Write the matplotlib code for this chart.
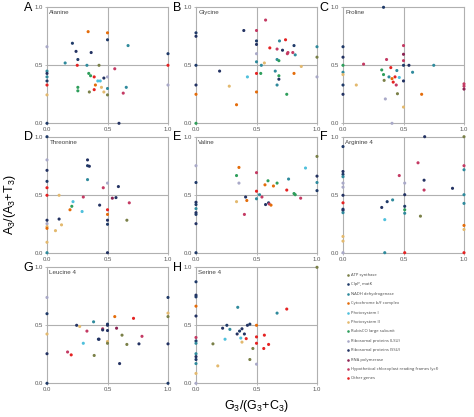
import numpy as np
import matplotlib
matplotlib.use("Agg")
import matplotlib.pyplot as plt

plt.rcParams['font.family'] = ['Liberation Sans', 'DejaVu Sans']
plt.rcParams['mathtext.fontset'] = 'custom'
plt.rcParams['mathtext.rm'] = 'Liberation Sans'
plt.rcParams['mathtext.it'] = 'Liberation Sans'

# gene groups (legend order) and their colours
groups = ['ATP synthase', 'ClpP, matK', 'NADH dehydrogenase', 'Cytochrome b/f complex',
          'Photosystem I', 'Photosystem II', 'RubisCO large subunit',
          'Ribosomal proteins (LSU)', 'Ribosomal proteins (SSU)', 'RNA polymerase',
          'Hypothetical chloroplast reading frames (ycf)', 'Other genes']
group_colors = ['#7a8048', '#1f3a68', '#2f8a9c', '#e46c0a', '#4fc0dc', '#e3b96e',
                '#2e9e5b', '#a9a9c8', '#233262', '#8b2252', '#c43a63', '#e52222']

# A - Alanine
ala_x = [0, .21, .24, .34, .5, .5, .67, .365, .255, .15, 1, .25, .33, .43, 1, .56, 0, 0, 0, 0, 0, 0,
         .345, .36, .39, .47, .5, .42, .44, .40, .45, .39, .5, .655, .255, .255, .35, .47, .5, .63, 1, 0, .595]
ala_y = [.66, .69, .62, .79, .78, .72, .67, .61, .55, .52, .60, .50, .50, .50, .50, .47, .45, .43, .40, .365, .33, .245,
         .43, .41, .40, .39, .40, .365, .365, .33, .31, .29, .30, .31, .31, .28, .27, .27, .245, .26, .33, 0, 0]
ala_g = [7, 1, 8, 3, 3, 1, 2, 8, 1, 2, 1, 11, 2, 0, 11, 10, 2, 8, 2, 1, 11, 5,
         6, 6, 11, 8, 7, 4, 4, 3, 5, 11, 2, 2, 6, 6, 0, 5, 0, 10, 7, 1, 8]

# B - Glycine
gly_x = [0, 0, 0, 0, 0, 0, .195, .275, .335, .395, .425, .5, .5, .5, .5, .5, .5, .5, .575, .565, .54, .535,
         .61, .67, .69, .715, .74, .755, .76, .80, .81, .82, .67, .685, .655, .685, .685, .67, .75, .81, .87, 1, 1, 1]
gly_y = [.78, .75, .50, .33, .25, 0, .45, .32, .16, .80, .40, .80, .71, .68, .60, .53, .43, .27, .89, .52, .50, .43,
         .65, .64, .71, .63, .72, .60, .61, .61, .67, .59, .55, .54, .45, .41, .38, .33, .25, .43, .49, .66, .57, .40]
gly_g = [1, 8, 1, 8, 3, 6, 8, 5, 3, 8, 4, 10, 1, 8, 7, 2, 11, 3, 10, 5, 2, 6,
         11, 10, 2, 8, 11, 10, 10, 10, 1, 2, 2, 6, 2, 6, 8, 2, 6, 3, 5, 2, 0, 7]

# C - Proline
pro_x = [.335, 0, 0, 0, 0, 0, 0, 0, .11, .17, .36, .395, .32, .335, .34, .38, .405, .43, .415, .44, .445, .465,
         .35, .45, .5, .5, .5, .5, .5, .5, .545, .575, .75, .65, .405, 1, 1, 1]
pro_y = [1, .66, .57, .50, .44, .42, .33, .25, .33, .51, .55, .48, .46, .42, .37, .40, .385, .40, .355, .33, .455, .395,
         .21, .255, .67, .595, .54, .50, .365, .14, .50, .44, .50, .25, 0, .34, .32, .295]
pro_g = [1, 1, 8, 6, 2, 5, 1, 8, 5, 10, 10, 11, 6, 6, 0, 2, 3, 11, 11, 10, 2, 4,
         7, 0, 10, 9, 10, 1, 8, 5, 8, 2, 2, 3, 7, 10, 10, 9]

# D - Threonine
thr_x = [0, 0, 0, 0, 0, 0, 0, 0, 0, 0, 0, 0, .10, .10, .12, .07, .19, .205, .215, .29, .30, .335, .335, .35, .335,
         .435, .465, .5, .5, .5, .5, .5, .5, .59, .54, .57, .68, .66]
thr_y = [1, .80, .71, .615, .56, .495, .28, .25, .225, .21, .09, 0, .495, .29, .24, .19, .37, .40, .44, .355, .48, .80, .75, .745, .63,
         .41, .56, .60, .37, .33, .28, .245, 0, .57, .47, .475, .43, .28]
thr_g = [1, 7, 8, 1, 11, 11, 8, 7, 5, 3, 5, 2, 5, 8, 5, 5, 3, 6, 4, 4, 10, 8, 1, 8, 2,
         8, 10, 7, 11, 3, 8, 1, 8, 8, 9, 8, 10, 0]

# E - Valine
val_x = [0, 0, 0, 0, 0, 0, 0, 0, 0, .335, .355, .355, .335, .42, .41, .40, .5, .5, .5, .525, .545, .575, .60, .605,
         .62, .57, .595, .64, .67, .765, .75, .81, .82, .865, .905, 1, 1, 1, 1]
val_y = [.75, .605, .435, .415, .38, .345, .33, .25, 0, .665, .735, .60, .44, .45, .48, .33, .69, .53, .465, .50, .48, .415, .43, .42,
         .41, .585, .62, .575, .60, .635, .54, .51, .50, .47, .73, .83, .66, .605, .535]
val_g = [7, 1, 8, 1, 2, 8, 1, 8, 1, 6, 3, 7, 5, 3, 8, 10, 10, 11, 2, 2, 10, 8, 1, 10,
         3, 3, 6, 3, 6, 2, 11, 6, 6, 10, 4, 0, 8, 2, 1]

# F - Arginine 4
arg_x = [0, 0, 0, 0, 0, 0, 0, 0, 0, 0, 0, 0, 0, 0, .675, 1, .62, .465, .67, .67, .905, .51, .51, .51, .51, .51,
         .32, .365, .41, .345, .64, .345, .51, 1, 1, 1, 1, 1, 1, 1]
arg_y = [.915, .70, .675, .655, .60, .565, .495, .43, .375, .365, .345, .14, .10, 0, 1, 1, .775, .665, .625, .54, .555, .60, .50, .40, .37, .34,
         .39, .44, .455, .285, .315, 0, 0, .75, .715, .50, .425, .235, .20, 0]
arg_g = [1, 8, 1, 2, 7, 7, 8, 11, 1, 8, 2, 5, 5, 7, 8, 0, 10, 10, 8, 10, 8, 7, 8, 1, 6, 2,
         8, 1, 2, 4, 0, 2, 11, 10, 2, 2, 2, 3, 5, 11]

# G - Leucine 4
leu_x = [0, 0, 0, 0, 0, .245, .27, .385, .33, .30, .425, .43, .17, .20, .39, .46, .46, .5, .5, .5, .5, .5,
         .56, .575, .62, .66, .60, .715, .76, .785, 1, 1, 1, 1, 1]
leu_y = [.74, .60, .425, .255, 0, .50, .49, .53, .45, .345, .38, .38, .27, .245, .24, .47, .46, .51, .50, .455, .36, .345,
         .575, .475, .415, .335, .17, .56, .34, .405, .74, .605, .575, .34, 0]
leu_g = [7, 1, 5, 8, 1, 8, 5, 2, 10, 4, 1, 8, 10, 11, 0, 10, 8, 1, 8, 8, 5, 0,
         3, 9, 0, 0, 8, 11, 8, 10, 1, 5, 0, 8, 1]

# H - Serine 4
ser_x = [0, 0, 0, 0, 0, 0, 0, 0, 0, 0, 0, 0, 0, 0, .14, .18, .22, .24, .255, .28, .345, .34, .36, .38, .37, .38,
         .40, .415, .425, .445, .445, .47, .5, .5, .5, .5, .565, .56, .60, .67, .75, 1]
ser_y = [.875, .76, .745, .665, .58, .395, .365, .345, .255, .23, .205, .17, .085, 0, .34, .15, .475, .38, .50, .465, .655, .425, .45, .47, .39, .355,
         .425, .385, .50, .51, .205, .30, .50, .40, .345, .165, .415, .30, .335, .605, .64, 1]
ser_g = [1, 8, 1, 3, 8, 10, 1, 2, 2, 8, 1, 2, 5, 7, 0, 5, 8, 4, 1, 2, 2, 8, 1, 8, 4, 5,
         8, 11, 8, 1, 0, 0, 3, 11, 11, 7, 11, 11, 11, 2, 11, 0]

panels = [('A', 'Alanine', ala_x, ala_y, ala_g),
          ('B', 'Glycine', gly_x, gly_y, gly_g),
          ('C', 'Proline', pro_x, pro_y, pro_g),
          ('D', 'Threonine', thr_x, thr_y, thr_g),
          ('E', 'Valine', val_x, val_y, val_g),
          ('F', 'Arginine 4', arg_x, arg_y, arg_g),
          ('G', 'Leucine 4', leu_x, leu_y, leu_g),
          ('H', 'Serine 4', ser_x, ser_y, ser_g)]

W, H = 474, 417
fig = plt.figure(figsize=(W / 100, H / 100), dpi=100)

col_left = [47, 196, 343]
row_top = [7.3, 136.7, 267.3]
pw, ph = 121, 116
grey = '#b0b0b0'

for i, (letter, name, xs, ys, gs) in enumerate(panels):
    r, c = divmod(i, 3)
    ax = fig.add_axes([col_left[c] / W, 1 - (row_top[r] + ph) / H, pw / W, ph / H])
    ax.set_xlim(0, 1)
    ax.set_ylim(0, 1)
    ax.axhline(0.5, color=grey, lw=0.8, zorder=1)
    ax.axvline(0.5, color=grey, lw=0.8, zorder=1)
    cols = [group_colors[g] for g in gs]
    ax.scatter(xs, ys, s=5, c=cols, linewidths=0, zorder=3, clip_on=False)
    for sp in ax.spines.values():
        sp.set_color(grey)
        sp.set_linewidth(0.8)
    ax.set_xticks([0, 0.5, 1])
    ax.set_yticks([0, 0.5, 1])
    ax.set_xticklabels(['0.0', '0.5', '1.0'])
    ax.set_yticklabels(['0.0', '0.5', '1.0'])
    ax.tick_params(labelsize=4.3, labelcolor='#555555', color=grey, length=1.5,
                   width=0.6, pad=1.5)
    ax.text(0.02, 0.975, name, transform=ax.transAxes, fontsize=4.5,
            color='#444444', ha='left', va='top')
    ax.text(-0.155, 0.995, letter, transform=ax.transAxes, fontsize=9,
            ha='center', va='center')

# legend block in the ninth cell
lax = fig.add_axes([340 / W, 1 - 392 / H, 130 / W, 122 / H])
lax.set_xlim(0, 130)
lax.set_ylim(122, 0)
lax.axis('off')
for k, (lab, col) in enumerate(zip(groups, group_colors)):
    yy = 5 + k * 9.4
    lax.scatter([8], [yy], s=3.5, color=col, linewidths=0)
    lax.text(11, yy, lab, fontsize=3.0, color='#444444', va='center', ha='left',
             family=['Open Sans', 'DejaVu Sans'])

fig.text(10 / W, 1 - 205 / H, r'A$_3$/(A$_3$+T$_3$)', rotation=90,
         ha='center', va='center', fontsize=9)
fig.text(256 / W, 1 - 406 / H, r'G$_3$/(G$_3$+C$_3$)',
         ha='center', va='center', fontsize=9)

fig.savefig('out.png', dpi=100)
